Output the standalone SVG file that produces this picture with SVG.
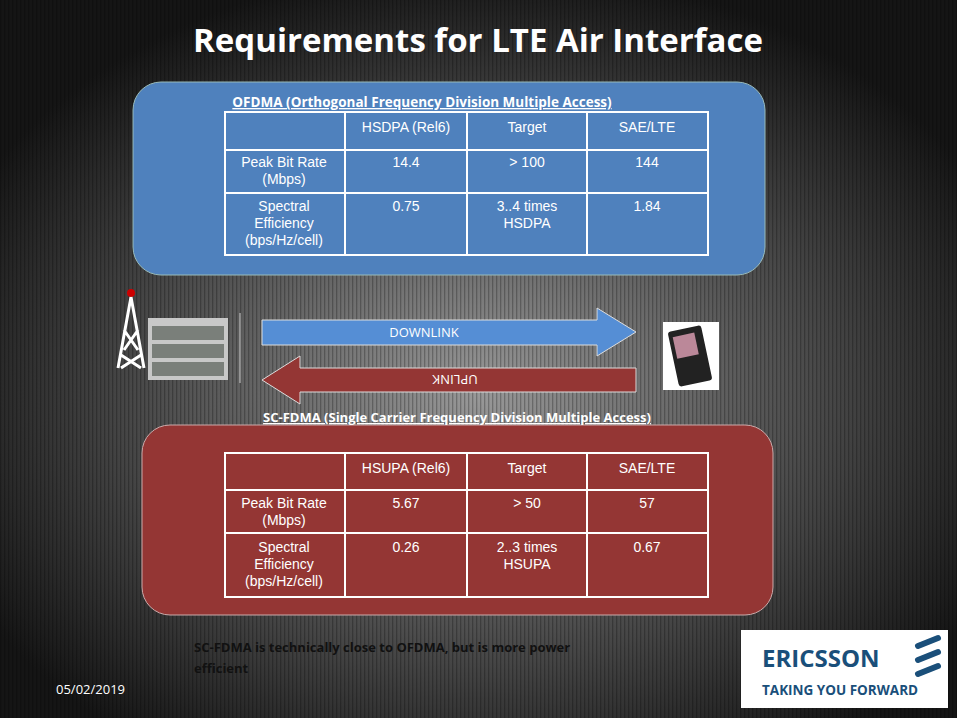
<svg xmlns="http://www.w3.org/2000/svg" width="957" height="718" viewBox="0 0 957 718">
<defs>
<radialGradient id="bg" cx="0.5" cy="0.55" r="0.6">
<stop offset="0" stop-color="#999"/><stop offset="0.5" stop-color="#555"/><stop offset="1" stop-color="#151515"/>
</radialGradient>
<pattern id="stripes" width="4" height="4" patternUnits="userSpaceOnUse"><rect width="1.3" height="4" fill="#000" opacity="0.25"/></pattern>
</defs>
<style>
.t{font-family:"Liberation Sans",Arial,sans-serif;font-size:14px;fill:#fff;text-anchor:middle}
.c{font-family:"Open Sans","Liberation Sans",sans-serif;font-weight:bold}
.g{fill:none;stroke:#fff;stroke-width:2}
</style>
<rect width="957" height="718" fill="url(#bg)"/>
<rect width="957" height="718" fill="url(#stripes)"/>
<text x="478" y="52" text-anchor="middle" class="c" font-size="33" fill="#fff">Requirements for LTE Air Interface</text>

<g id="ofdma">
<rect x="133" y="82" width="632" height="193" rx="28" fill="#4f81bd" stroke="#9bb" stroke-width="1"/>
<text x="422" y="107" text-anchor="middle" class="c" font-size="13.5" fill="#fff" text-decoration="underline">OFDMA (Orthogonal Frequency Division Multiple Access)</text>
<g class="g"><rect x="225" y="112" width="483" height="143"/><line x1="225" y1="150" x2="708" y2="150"/><line x1="225" y1="193" x2="708" y2="193"/><line x1="345" y1="112" x2="345" y2="255"/><line x1="467" y1="112" x2="467" y2="255"/><line x1="587" y1="112" x2="587" y2="255"/></g>
<text class="t" x="406" y="132">HSDPA (Rel6)</text><text class="t" x="527" y="132">Target</text><text class="t" x="647" y="132">SAE/LTE</text>
<text class="t" x="284" y="167">Peak Bit Rate</text><text class="t" x="284" y="184">(Mbps)</text>
<text class="t" x="406" y="167">14.4</text><text class="t" x="527" y="167">&gt; 100</text><text class="t" x="647" y="167">144</text>
<text class="t" x="284" y="211">Spectral</text><text class="t" x="284" y="228">Efficiency</text><text class="t" x="284" y="245">(bps/Hz/cell)</text>
<text class="t" x="406" y="211">0.75</text><text class="t" x="527" y="211">3..4 times</text><text class="t" x="527" y="228">HSDPA</text><text class="t" x="647" y="211">1.84</text>
</g>

<g id="scfdma">
<rect x="142" y="425" width="631" height="190" rx="28" fill="#943634" stroke="#caa" stroke-width="1"/>
<text x="457" y="422" text-anchor="middle" class="c" font-size="13" fill="#fff" text-decoration="underline">SC-FDMA (Single Carrier Frequency Division Multiple Access)</text>
<g class="g"><rect x="225" y="453" width="483" height="144"/><line x1="225" y1="490" x2="708" y2="490"/><line x1="225" y1="533" x2="708" y2="533"/><line x1="345" y1="453" x2="345" y2="597"/><line x1="467" y1="453" x2="467" y2="597"/><line x1="587" y1="453" x2="587" y2="597"/></g>
<text class="t" x="406" y="473">HSUPA (Rel6)</text><text class="t" x="527" y="473">Target</text><text class="t" x="647" y="473">SAE/LTE</text>
<text class="t" x="284" y="508">Peak Bit Rate</text><text class="t" x="284" y="525">(Mbps)</text>
<text class="t" x="406" y="508">5.67</text><text class="t" x="527" y="508">&gt; 50</text><text class="t" x="647" y="508">57</text>
<text class="t" x="284" y="552">Spectral</text><text class="t" x="284" y="569">Efficiency</text><text class="t" x="284" y="586">(bps/Hz/cell)</text>
<text class="t" x="406" y="552">0.26</text><text class="t" x="527" y="552">2..3 times</text><text class="t" x="527" y="569">HSUPA</text><text class="t" x="647" y="552">0.67</text>
</g>

<g id="basestation">
<circle cx="131" cy="293" r="4" fill="#c00"/>
<g stroke="#fff" stroke-width="3" fill="none"><path d="M131 297 L118 368 M131 297 L144 368 M124 330 L138 350 M138 330 L124 350 M121 355 L141 368 M141 355 L121 368"/></g>
<rect x="148" y="318" width="80" height="62" fill="#c8c8c8"/>
<rect x="152" y="326" width="72" height="14" fill="#7a7f7a"/><rect x="152" y="344" width="72" height="14" fill="#7a7f7a"/><rect x="152" y="362" width="72" height="14" fill="#7a7f7a"/>
<line x1="240" y1="313" x2="240" y2="383" stroke="#ccc"/>
</g>
<g id="phone">
<rect x="663" y="322" width="56" height="68" fill="#fff"/>
<rect x="673" y="328" width="34" height="56" rx="3" fill="#222" transform="rotate(-12 690 356)"/>
<rect x="677" y="334" width="22" height="22" fill="#b89" transform="rotate(-12 690 356)"/>
</g>
<g id="connectors">
<path d="M262 320 H597 V308 L636 332 L597 356 V345 H262 Z" fill="#558ed5" stroke="#ddd" stroke-width="1"/>
<text x="424" y="337" text-anchor="middle" font-family="Open Sans,Liberation Sans,sans-serif" font-size="13" fill="#fff">DOWNLINK</text>
<path d="M636 368 H300 V356 L262 380 L300 404 V392 H636 Z" fill="#943634" stroke="#ddd" stroke-width="1"/>
<text x="0" y="0" text-anchor="middle" font-family="Open Sans,Liberation Sans,sans-serif" font-size="13" fill="#fff" transform="translate(455 375) rotate(180)">UPLINK</text>
</g>
<text x="194" y="652" class="c" font-size="13" fill="#111">SC-FDMA is technically close to OFDMA, but is more power</text>
<text x="194" y="673" class="c" font-size="13" fill="#111">efficient</text>
<text x="56" y="694" font-family="Open Sans,Liberation Sans,sans-serif" font-size="13" fill="#fff">05/02/2019</text>
<g id="logo">
<rect x="741" y="630" width="207" height="78" fill="#fff"/>
<text x="762" y="667" font-family="Open Sans,Liberation Sans,sans-serif" font-weight="bold" font-size="24" fill="#1a4f7a">ERICSSON</text>
<g stroke="#1a4f7a" stroke-width="6" stroke-linecap="round"><line x1="918" y1="646" x2="938" y2="638"/><line x1="918" y1="660" x2="938" y2="652"/><line x1="918" y1="674" x2="938" y2="666"/></g>
<text x="762" y="695" font-family="Open Sans,Liberation Sans,sans-serif" font-weight="bold" font-size="13.5" fill="#1a4f7a">TAKING YOU FORWARD</text>
</g>
</svg>
